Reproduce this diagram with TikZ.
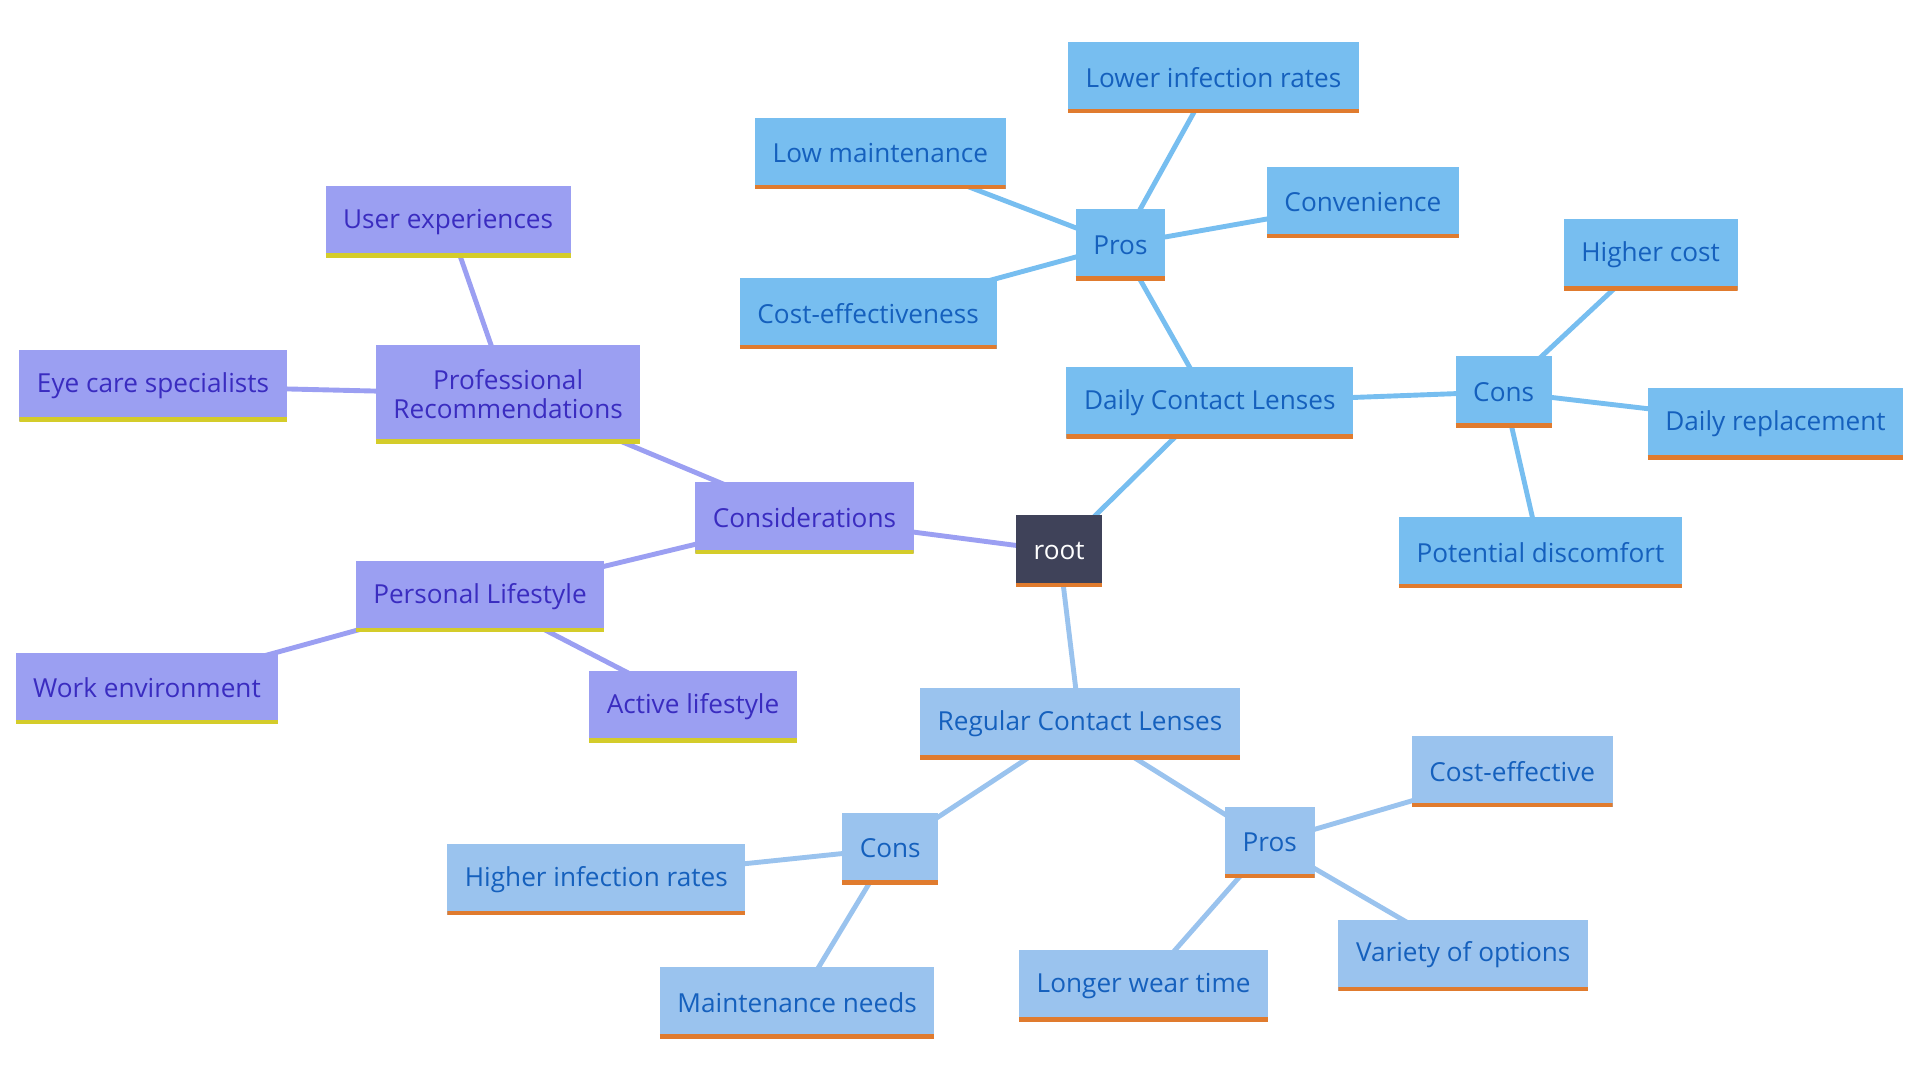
\documentclass[tikz,border=0pt]{standalone}
\usepackage{fontspec}
\setmainfont{Open Sans}
\usetikzlibrary{positioning, backgrounds}
\definecolor{dailyfill}{HTML}{77BEF0}
\definecolor{dailytext}{HTML}{1560BD}
\definecolor{regfill}{HTML}{9AC3EE}
\definecolor{consfill}{HTML}{9B9FF2}
\definecolor{constext}{HTML}{3A2CC0}
\definecolor{rootfill}{HTML}{3F4259}
\definecolor{orangeln}{HTML}{E07B2E}
\definecolor{yellowln}{HTML}{D4CC2A}

\begin{document}
\begin{tikzpicture}[x=0.0125cm, y=-0.0125cm,
    box/.style={rectangle, 
      fill=#1, 
      minimum height=0.725cm, 
      inner xsep=0.18cm, 
      align=center, 
      font=\fontsize{7.6}{8.4}\selectfont},
    line/.style={path picture={\draw[#1, line width=0.08cm] 
      (path picture bounding box.south west) -- (path picture bounding box.south east);}},
    daily/.style={box=dailyfill, line=orangeln, text=dailytext},
    regular/.style={box=regfill, line=orangeln, text=dailytext},
    consid/.style={box=consfill, line=yellowln, text=constext},
    rootnode/.style={box=rootfill, line=orangeln, text=white},
    edge/.style={draw=#1, line width=0.05cm}]
  \useasboundingbox (0,0) rectangle (1568,882);

  % ROOT

  \node [rootnode] (root) at (865,450) {root};

  % DAILY

  \node [daily] (daily) at (988,329) {Daily Contact Lenses};
  \node [daily] (dpros) at (915,200) {Pros};
  \node [daily] (lowinf) at (991,63) {Lower infection rates};
  \node [daily] (lowmaint) at (719,125) {Low maintenance};
  \node [daily] (conv) at (1113,165) {Convenience};
  \node [daily] (costeff) at (709,256) {Cost-effectiveness};
  \node [daily] (dcons) at (1228,320) {Cons};
  \node [daily] (highcost) at (1348,208) {Higher cost};
  \node [daily] (dailyrep) at (1450,346) {Daily replacement};
  \node [daily] (discomf) at (1258,451) {Potential discomfort};

  % REGULAR

  \node [regular] (regular) at (882,591) {Regular Contact Lenses};
  \node [regular] (rcons) at (727,693) {Cons};
  \node [regular] (highinf) at (487,718) {Higher infection rates};
  \node [regular] (maintneeds) at (651,819) {Maintenance needs};
  \node [regular] (rpros) at (1037,688) {Pros};
  \node [regular] (costeffr) at (1235,630) {Cost-effective};
  \node [regular] (longwear) at (934,805) {Longer wear time};
  \node [regular] (variety) at (1195,780) {Variety of options};

  % CONSIDERATIONS

  \node [consid] (consid) at (657,423) {Considerations};
  \node [consid, minimum height=1cm] (profrec) at (415,322) {Professional\\Recommendations};
  \node [consid] (userexp) at (366,181) {User experiences};
  \node [consid] (eyecare) at (125,315) {Eye care specialists};
  \node [consid] (lifestyle) at (392,487) {Personal Lifestyle};
  \node [consid] (workenv) at (120,562) {Work environment};
  \node [consid] (active) at (566,577) {Active lifestyle};

  % EDGES

  \begin{scope}[on background layer]
    \foreach \a/\b in {root/daily, daily/dpros, dpros/lowinf, dpros/lowmaint, 
      dpros/conv, dpros/costeff, daily/dcons, dcons/highcost, dcons/dailyrep, 
      dcons/discomf}
      \path [edge=dailyfill] (\a.center) -- (\b.center);
    \foreach \a/\b in {root/regular, regular/rcons, rcons/highinf, 
      rcons/maintneeds, regular/rpros, rpros/costeffr, rpros/longwear, 
      rpros/variety}
      \path [edge=regfill] (\a.center) -- (\b.center);
    \foreach \a/\b in {root/consid, consid/profrec, profrec/userexp, 
      profrec/eyecare, consid/lifestyle, lifestyle/workenv, lifestyle/active}
      \path [edge=consfill] (\a.center) -- (\b.center);
  \end{scope}
\end{tikzpicture}
\end{document}
